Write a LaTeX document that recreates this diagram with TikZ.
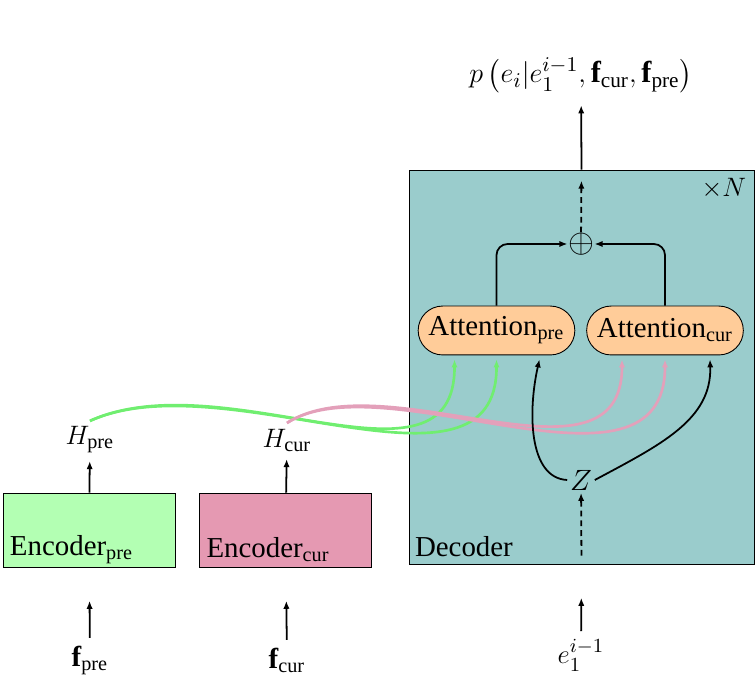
\documentclass[tikz,border=0pt]{standalone}
\usepackage{amsmath}
\usepackage{fontspec}
\setmainfont{Liberation Serif}
\usepackage{tikz}
\usetikzlibrary{positioning,arrows.meta,shapes.misc,calc}

\definecolor{encpre}{HTML}{B3FFB3}
\definecolor{enccur}{HTML}{E599B2}
\definecolor{decfill}{HTML}{9ACCCC}
\definecolor{attfill}{HTML}{FFCC99}
\definecolor{prelink}{HTML}{70EE70}
\definecolor{curlink}{HTML}{E3A0BA}

\begin{document}
\begin{tikzpicture}[x=0.45pt,y=-0.45pt,font=\fontsize{13}{15}\selectfont,
    box/.style={draw,minimum width=77.4pt,minimum height=33.3pt,inner sep=0pt},
    attn/.style={draw,rounded rectangle,fill=attfill,minimum width=72.5pt,minimum height=22pt,inner sep=1pt},
    arr/.style={-{Latex[length=3.6pt,width=2.8pt]},line width=0.8pt},
    darr/.style={arr,dash pattern=on 2.6pt off 1.8pt},
    prearr/.style={-{Latex[length=3.6pt,width=2.8pt]},prelink,line width=1.2pt},
    curarr/.style={-{Latex[length=3.6pt,width=2.8pt]},curlink,line width=1.2pt}
  ]
    \useasboundingbox (0,0) rectangle (755,681);

    % encoders
    \node[box,fill=encpre] (encpre) at (89,530) {};
    \node[box,fill=enccur] (enccur) at (285.5,530) {};
    \node[anchor=base west,inner sep=0pt] (encprelbl) at ($(encpre.south west)+(7,-12)$) {Encoder$_\text{pre}$};
    \node[anchor=base west,inner sep=0pt] (enccurlbl) at ($(enccur.south west)+(7,-10)$) {Encoder$_\text{cur}$};

    % decoder
    \node[draw,fill=decfill,minimum width=155.25pt,minimum height=177.3pt,inner sep=0pt] (dec) at (581.5,367) {};
    \node[anchor=base west,inner sep=0pt] (declbl) at ($(dec.south west)+(6,-8)$) {Decoder};
    \node[anchor=north east,inner sep=0pt] (times) at ($(dec.north east)+(-8,8)$) {$\times N$};

    \node[attn] (attpre) at (496.5,330.5) {Attention$_\text{pre}$};
    \node[attn] (attcur) at (665,330.5) {Attention$_\text{cur}$};
    \node[inner sep=0pt,scale=1.25] (oplus) at (581,244) {$\oplus$};
    \node[inner sep=1pt,scale=1.1] (z) at (581,480) {$Z$};

    % inputs and outputs
    \node (hpre) at (90,440) {$H_\text{pre}$};
    \node (hcur) at (287,440) {$H_\text{cur}$};
    \node (fpre) at (90,660) {$\mathbf{f}_\text{pre}$};
    \node (fcur) at (287,660) {$\mathbf{f}_\text{cur}$};
    \node (prev) at (581,655) {$e_1^{i-1}$};
    \node[scale=1.05] (outp) at (581,75) {$p\left(e_i|e_1^{i-1},\mathbf{f}_\text{cur},\mathbf{f}_\text{pre}\right)$};

    \draw[arr] (encpre) -- (hpre);
    \draw[arr] (enccur) -- (hcur);
    \draw[arr,shorten >=15pt] (fpre) -- (encpre);
    \draw[arr,shorten >=15pt] (fcur) -- (enccur);
    \draw[arr,shorten >=15pt] (prev) -- (dec.south);
    \draw[darr,shorten <=4pt] (dec.south) -- (z);
    \draw[arr,shorten >=2pt] (dec.north) -- (outp);
    \draw[darr,shorten >=5pt] (oplus) -- (dec.north);
    \draw[arr,rounded corners=5pt] (attpre.north) |- (oplus);
    \draw[arr,rounded corners=5pt] (attcur.north) |- (oplus);

    % links from the encoders
    \draw[prearr] ($(hpre.north)+(0,2)$) .. controls (225,360) and (455,505) .. ($(attpre.south)+(-42,4)$);
    \draw[prearr] ($(hpre.north)+(0,2)$) .. controls (225,360) and (497,515) .. ($(attpre.south)+(0,4)$);
    \draw[curarr] ($(hcur.north)+(0,2)$) .. controls (385,360) and (622,500) .. ($(attcur.south)+(-43,4)$);
    \draw[curarr] ($(hcur.north)+(0,2)$) .. controls (385,360) and (665,515) .. ($(attcur.south)+(0,4)$);

    % links from Z
    \draw[arr] (z.west) .. controls (528,478) and (528,410) .. ($(attpre.south)+(43,4)$);
    \draw[arr] (z.east) .. controls (660,445) and (712,420) .. ($(attcur.south)+(45,4)$);
  \end{tikzpicture}
\end{document}
